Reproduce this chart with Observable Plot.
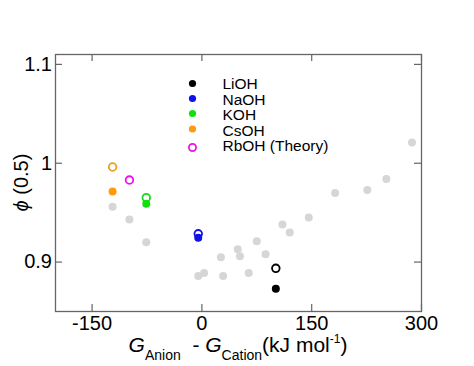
<!DOCTYPE html>
<html>
<head>
<meta charset="utf-8">
<script src="https://cdn.jsdelivr.net/npm/d3@7"></script>
<script src="https://cdn.jsdelivr.net/npm/@observablehq/plot@0.6"></script>
<style>
  html, body { margin: 0; padding: 0; background: #fff; }
  #chart { position: relative; width: 474px; height: 366px; }
  svg { font-family: "Liberation Sans", Arial, sans-serif; }
</style>
</head>
<body>
<div id="chart"></div>
<script>
// Background (gray) data
const grayX = [-122, -99, -76, -5, 3, 26, 29, 49, 52, 64, 75, 87, 110, 120, 146, 182, 226, 252, 287];
const grayY = [0.956, 0.943, 0.920, 0.886, 0.889, 0.905, 0.886, 0.913, 0.906, 0.889, 0.921, 0.908, 0.938, 0.930, 0.945, 0.970, 0.973, 0.984, 1.021];

// Series (filled = experiment, open = theory)
const series = ["LiOH", "NaOH", "KOH", "CsOH", "RbOH (Theory)"];
const seriesColor = ["#000000", "#1010e8", "#10e010", "#ff9a10", "#ee10ee"];
const openColor = ["#000000", "#1010e8", "#10e010", "#e8a020", "#ee10ee"];

const filledName = ["LiOH", "NaOH", "KOH", "CsOH"];
const filledX = [101, -5, -76, -122];
const filledY = [0.873, 0.9246, 0.959, 0.9713];

const openName = ["LiOH", "NaOH", "KOH", "CsOH", "RbOH (Theory)"];
const openX = [101, -5, -76, -122, -99];
const openY = [0.8937, 0.9286, 0.9652, 0.9962, 0.983];

const xTicks = [-150, 0, 150, 300];
const yTicks = [0.9, 1, 1.1];

const gray = grayX.map((x, i) => ({x, y: grayY[i]}));
const filled = filledX.map((x, i) => ({x, y: filledY[i], name: filledName[i]}));
const open = openX.map((x, i) => ({x, y: openY[i], name: openName[i]}));
const colorOf = n => seriesColor[series.indexOf(n)];
const openColorOf = n => openColor[series.indexOf(n)];

const W = 474, H = 366;
const mL = 55, mR = 53, mT = 54, mB = 55;
const fw = W - mL - mR, fh = H - mT - mB, tk = 7;
const tickStyle = {stroke: "#666", strokeWidth: 1.2};
const plot = Plot.plot({
  width: W,
  height: H,
  marginLeft: mL,
  marginRight: mR,
  marginTop: mT,
  marginBottom: mB,
  style: {fontFamily: "Liberation Sans, Arial, sans-serif", background: "white", color: "#000"},
  x: {domain: [-200, 300], label: null},
  y: {domain: [0.85, 1.11], label: null},
  marks: [
    Plot.dot(gray, {x: "x", y: "y", r: 4, fill: "#d6d6d6", stroke: "none"}),
    Plot.dot(open, {x: "x", y: "y", r: 3.8, fill: "white", stroke: d => openColorOf(d.name), strokeWidth: 1.8}),
    Plot.dot(filled, {x: "x", y: "y", r: 4, fill: d => colorOf(d.name), stroke: "none"}),
    // inward ticks
    Plot.tickX(xTicks, {x: d => d, insetTop: fh - tk, ...tickStyle}),
    Plot.tickX(xTicks, {x: d => d, insetBottom: fh - tk, ...tickStyle}),
    Plot.tickY(yTicks, {y: d => d, insetRight: fw - tk, ...tickStyle}),
    Plot.tickY(yTicks, {y: d => d, insetLeft: fw - tk, ...tickStyle}),
    Plot.axisX({anchor: "bottom", ticks: xTicks, tickSize: 0, tickPadding: 4, fontSize: 20, tickFormat: d => String(d)}),
    Plot.axisY({anchor: "left", ticks: yTicks, tickSize: 0, tickPadding: 3.5, fontSize: 20, tickFormat: d => String(d)}),
    Plot.frame({stroke: "#666", strokeWidth: 1.3})
  ]
});
document.getElementById("chart").appendChild(plot);

const svg = d3.select(plot);
const xs = plot.scale("x").range, ys = plot.scale("y").range;
const cx = (xs[0] + xs[1]) / 2, cy = (ys[0] + ys[1]) / 2;

// X axis label
const xl = svg.append("text")
  .attr("x", cx).attr("y", 351.5)
  .attr("text-anchor", "middle")
  .attr("font-size", 21)
  .attr("fill", "#000")
  .style("white-space", "pre");
xl.append("tspan").attr("font-style", "italic").text("G");
xl.append("tspan").attr("font-size", 14).attr("dy", 8).text("Anion");
xl.append("tspan").attr("dy", -8).text("  - ");
xl.append("tspan").attr("font-style", "italic").text("G");
xl.append("tspan").attr("font-size", 14).attr("dy", 8).text("Cation");
xl.append("tspan").attr("dy", -8).text("(kJ mol");
xl.append("tspan").attr("font-size", 12).attr("dy", -9).text("-1");
xl.append("tspan").attr("dy", 9).text(")");

// Y axis label
const yl = svg.append("text")
  .attr("transform", `translate(28,${cy}) rotate(-90)`)
  .attr("text-anchor", "middle")
  .attr("font-size", 20)
  .attr("fill", "#000")
  .style("white-space", "pre");
yl.append("tspan").attr("font-style", "italic").text("\u03D5");
yl.append("tspan").text(" (0.5)");

// Legend
const legendSymY = [83.5, 98.5, 113.5, 129, 147.5];
const legendTxtY = [83.5, 99, 114.5, 130, 145.8];
const lg = svg.append("g").attr("text-anchor", "start");
series.forEach((name, i) => {
  const isOpen = name.includes("Theory");
  lg.append("circle")
    .attr("cx", 192.5).attr("cy", legendSymY[i])
    .attr("r", 3.6)
    .attr("fill", isOpen ? "white" : seriesColor[i])
    .attr("stroke", isOpen ? seriesColor[i] : "none")
    .attr("stroke-width", 1.8);
  lg.append("text")
    .attr("x", 222.5).attr("y", legendTxtY[i] + 5.5)
    .attr("text-anchor", "start")
    .attr("font-size", 15.5)
    .attr("fill", "#000")
    .text(name);
});
</script>
</body>
</html>
